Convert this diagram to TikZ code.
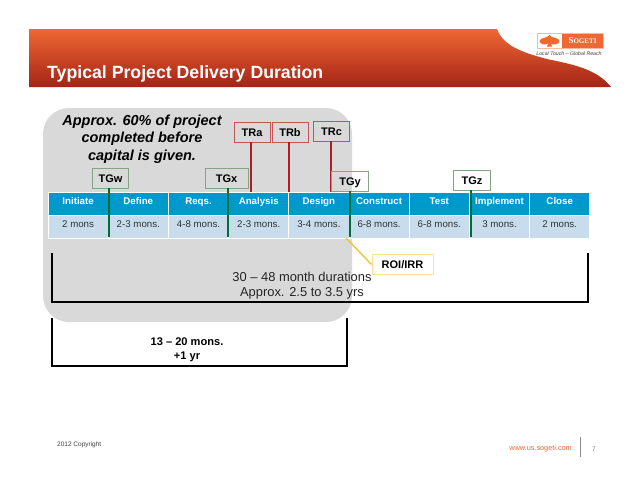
\documentclass[tikz,border=0pt]{standalone}
\usepackage{fontspec}
\setmainfont{Liberation Sans}
\newfontfamily\logoserif{Liberation Serif}
\definecolor{headblue}{RGB}{0,153,204}
\definecolor{rowblue}{RGB}{200,220,235}
\definecolor{panelgray}{RGB}{217,217,217}
\definecolor{tgreen}{RGB}{0,110,50}
\definecolor{tgreenbox}{RGB}{130,165,130}
\definecolor{tred}{RGB}{175,30,40}
\definecolor{tredbox}{RGB}{195,85,85}
\definecolor{tyellow}{RGB}{245,195,60}
\definecolor{tyellowbox}{RGB}{250,225,150}
\definecolor{sogorange}{RGB}{238,104,52}
\definecolor{sogmid}{RGB}{215,80,38}
\definecolor{sogred}{RGB}{165,35,22}
\tikzset{
  x=1pt,y=-1pt,
  headcell/.style={fill=headblue,draw=white,line width=0.9pt,minimum width=60.2pt,minimum height=23pt,inner sep=0pt,text height=7pt,text depth=5pt,text=white,font=\bfseries\fontsize{9.7}{11}\selectfont},
  rowcell/.style={fill=rowblue,draw=white,line width=0.9pt,minimum width=60.2pt,minimum height=23pt,inner sep=0pt,text height=7pt,text depth=5pt,text=black!80,font=\fontsize{9.7}{11}\selectfont},
  gatebox/.style={draw=tgreenbox,line width=0.9pt,minimum width=36.5pt,minimum height=20pt,inner sep=0pt,text height=8pt,text depth=0pt,font=\bfseries\fontsize{11}{13}\selectfont},
  redbox/.style={draw=tredbox,line width=0.9pt,minimum width=36pt,minimum height=20pt,inner sep=0pt,text height=8pt,text depth=0pt,font=\bfseries\fontsize{11}{13}\selectfont},
  yellowbox/.style={draw=tyellowbox,fill=white,line width=0.9pt,minimum width=61pt,minimum height=19.5pt,inner sep=0pt,text height=8pt,text depth=0pt,font=\bfseries\fontsize{11}{13}\selectfont},
  greenline/.style={draw=tgreen,line width=1.7pt},
  redline/.style={draw=tred,line width=1.7pt},
  bracket/.style={draw=black,line width=1.6pt,line join=miter},
  plaintext/.style={inner sep=0pt,align=center},
}
\begin{document}
\begin{tikzpicture}
\useasboundingbox (0,0) rectangle (638,493);
\fill[white] (0,0) rectangle (638,493);
% banner
\shade[top color=sogorange,middle color=sogmid,bottom color=sogred]
  (29,29) -- (497,29) .. controls (503,45) and (520,52) .. (547,59)
  .. controls (570,64) and (596,68) .. (611,87) -- (29,87) -- cycle;
\node[plaintext,anchor=base west,text=white,font=\bfseries\fontsize{17.7}{20}\selectfont] (title) at (47,78) {Typical Project Delivery Duration};
% logo
\draw[draw=sogorange!45,line width=0.5pt] (537,33.5) rectangle (603,48);
\fill[sogorange] (562,33.5) rectangle (603,48);
\fill[sogorange] (549.5,35) .. controls (551,38.5) and (559,37) .. (559.5,41)
  .. controls (559.5,44.5) and (553,45.5) .. (551,43.5) -- (552,46.5) -- (547,46.5) -- (548,43.5)
  .. controls (546,45.5) and (539.5,44.5) .. (539.5,41)
  .. controls (540,37) and (548,38.5) .. (549.5,35) -- cycle;
\node[plaintext,text=white,font=\logoserif\bfseries\fontsize{7}{8}\selectfont] (sogeti) at (582.5,40.7) {{\fontsize{9}{9}\selectfont S}OGETI};
\node[plaintext,text=black!75,font=\itshape\fontsize{5.2}{6}\selectfont] (tagline) at (569,54) {Local Touch – Global Reach};
% gray panel
\fill[panelgray,rounded corners=26pt] (43,108) rectangle (352,322);
% table
\foreach \n/\cx/\h/\r in {1/78.1/Initiate/2 mons,2/138.3/Define/2-3 mons.,3/198.5/Reqs./4-8 mons.,4/258.7/Analysis/2-3 mons.,5/318.9/Design/3-4 mons.,6/379.1/Construct/6-8 mons.,7/439.3/Test/6-8 mons.,8/499.5/Implement/3 mons.,9/559.7/Close/2 mons.}{
  \node[headcell] (h\n) at (\cx,203.5) {\h};
  \node[rowcell] (r\n) at (\cx,226.5) {\r};
}
% free ends of the gate lines
\coordinate (wend) at (109,237);
\coordinate (xend) at (228,237);
\coordinate (yend) at (350,237);
\coordinate (zend) at (471,237);
\coordinate (aend) at (251,192);
\coordinate (bend) at (289,192);
\coordinate (cend) at (331,192);
\coordinate (roiend) at (346,238);
% red gates
\node[redbox] (tra) at (252,132) {TRa};
\node[redbox] (trb) at (290,132) {TRb};
\node[redbox] (trc) at (331.5,131) {TRc};
\draw[redline] (aend |- tra.south) -- (aend);
\draw[redline] (bend |- trb.south) -- (bend);
\draw[redline] (cend |- trc.south) -- (cend);
% green gates
\node[gatebox] (tgw) at (110.5,178) {TGw};
\node[gatebox,minimum width=43pt] (tgx) at (226.5,178) {TGx};
\node[gatebox] (tgy) at (350,181) {TGy};
\node[gatebox] (tgz) at (472,180) {TGz};
\draw[greenline] (wend |- tgw.south) -- (wend);
\draw[greenline] (xend |- tgx.south) -- (xend);
\draw[greenline] (yend |- tgy.south) -- (yend);
\draw[greenline] (zend |- tgz.south) -- (zend);
% brackets
\coordinate (bigtl) at (52,253);
\coordinate (bigbl) at (52,302);
\coordinate (bigbr) at (588,302);
\coordinate (bigtr) at (588,253);
\draw[bracket] (bigtl) -- (bigbl) -- (bigbr) -- (bigtr);
\coordinate (smalltl) at (52,318);
\coordinate (smallbl) at (52,366);
\coordinate (smallbr) at (347,366);
\coordinate (smalltr) at (347,318);
\draw[bracket] (smalltl) -- (smallbl) -- (smallbr) -- (smalltr);
% ROI
\node[yellowbox] (roi) at (402.5,264.5) {ROI/IRR};
\draw[tyellow,line width=1.4pt] (roiend) -- (roi.west);
% texts
\node[plaintext,text=black!85,font=\fontsize{12.9}{15}\selectfont] (dur) at (302,286) {30 – 48 month durations\\Approx. 2.5 to 3.5 yrs};
\node[plaintext,font=\bfseries\fontsize{11.1}{14}\selectfont] (sub) at (187,349.5) {13 – 20 mons.\\+1 yr};
\node[plaintext,font=\bfseries\itshape\fontsize{14.5}{17.5}\selectfont] (note) at (142,139) {Approx. 60\% of project\\completed before\\capital is given.};
% footer
\node[plaintext,anchor=west,text=black!75,font=\fontsize{6.5}{8}\selectfont] (copy) at (57,445) {2012 Copyright};
\node[plaintext,anchor=east,text=sogorange,font=\fontsize{7.3}{9}\selectfont] (url) at (572,449) {www.us.sogeti.com};
\draw[black!45,line width=0.6pt] (580,437) -- (580,457);
\node[plaintext,text=black!50,font=\fontsize{6.5}{8}\selectfont] (page) at (594,449) {7};
\end{tikzpicture}
\end{document}
